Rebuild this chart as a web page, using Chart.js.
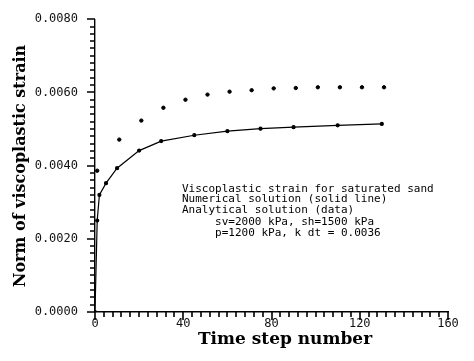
<!DOCTYPE html>
<html>
<head>
<meta charset="utf-8">
<script src="https://cdn.jsdelivr.net/npm/chart.js@4.4.1/dist/chart.umd.min.js"></script>
<style>
  html, body { margin: 0; padding: 0; background: #fff; }
  #wrap { width: 474px; height: 361px; }
</style>
</head>
<body>
<div id="wrap"><canvas id="c" width="474" height="361"></canvas></div>
<script>
// ---- data ----
const numericalSteps  = [0, 1, 2, 5, 10, 20, 30, 45, 60, 75, 90, 110, 130];
const numericalStrain = [0, 0.0025, 0.0032, 0.00352, 0.00393, 0.00441, 0.00467, 0.00483, 0.00494, 0.00501, 0.00505, 0.0051, 0.00514];

const analyticalSteps  = [1, 11, 21, 31, 41, 51, 61, 71, 81, 91, 101, 111, 121, 131];
const analyticalStrain = [0.00386, 0.00471, 0.00523, 0.00558, 0.0058, 0.00594, 0.00602, 0.00606, 0.00611, 0.00612, 0.00614, 0.00614, 0.00614, 0.00614];

const xTickLabels = ['0', '40', '80', '120', '160'];
const yTickLabels = ['0.0000', '0.0020', '0.0040', '0.0060', '0.0080'];

const xTitle = 'Time step number';
const yTitle = 'Norm of viscoplastic strain';
const noteLines = [
  'Viscoplastic strain for saturated sand',
  'Numerical solution (solid line)',
  'Analytical solution (data)',
  '     sv=2000 kPa, sh=1500 kPa',
  '     p=1200 kPa, k dt = 0.0036'
];

const X_MINOR = 4, X_MAJOR = 40, Y_MINOR = 0.0002, Y_MAJOR = 0.002;

const toXY = (xs, ys) => xs.map((x, i) => ({ x: x, y: ys[i] }));
const isMajor = (v, step) => Math.abs(v / step - Math.round(v / step)) < 1e-6;

const extrasPlugin = {
  id: 'extras',
  afterDraw(chart) {
    const ctx = chart.ctx;
    const xs = chart.scales.x, ys = chart.scales.y;
    const area = chart.chartArea;
    ctx.save();
    ctx.strokeStyle = '#000';
    ctx.lineWidth = 1.6;
    ctx.setLineDash([]);
    // minor + major ticks along the axes
    ctx.beginPath();
    const nx = Math.round((xs.max - xs.min) / X_MINOR);
    for (let i = 0; i <= nx; i++) {
      const v = xs.min + i * X_MINOR;
      const len = isMajor(v, X_MAJOR) ? 8 : 5;
      const px = Math.round(xs.getPixelForValue(v));
      ctx.moveTo(px, area.bottom);
      ctx.lineTo(px, area.bottom + len);
    }
    const ny = Math.round((ys.max - ys.min) / Y_MINOR);
    for (let i = 0; i <= ny; i++) {
      const v = ys.min + i * Y_MINOR;
      const len = isMajor(v, Y_MAJOR) ? 8 : 5;
      const py = Math.round(ys.getPixelForValue(v));
      ctx.moveTo(area.left, py);
      ctx.lineTo(area.left - len, py);
    }
    ctx.stroke();
    // axis titles
    ctx.fillStyle = '#000';
    ctx.font = 'bold 17px "DejaVu Serif"';
    ctx.textAlign = 'center';
    ctx.textBaseline = 'middle';
    ctx.fillText(xTitle, 285, 340);
    ctx.save();
    ctx.translate(21, 166);
    ctx.rotate(-Math.PI / 2);
    ctx.font = 'bold 16px "DejaVu Serif"';
    ctx.fillText(yTitle, 0, 0);
    ctx.restore();
    // annotation
    ctx.font = '11px "DejaVu Sans Mono"';
    ctx.textAlign = 'left';
    ctx.textBaseline = 'middle';
    const lineY = [189, 199.5, 210, 222, 233];
    noteLines.forEach((t, i) => ctx.fillText(t, 182, lineY[i]));
    ctx.restore();
  }
};

new Chart(document.getElementById('c'), {
  type: 'scatter',
  data: {
    datasets: [
      {
        label: 'Numerical',
        data: toXY(numericalSteps, numericalStrain),
        showLine: true,
        borderColor: '#000',
        backgroundColor: '#000',
        borderWidth: 1.2,
        pointRadius: 1.5,
        pointHoverRadius: 1.5,
        tension: 0
      },
      {
        label: 'Analytical',
        data: toXY(analyticalSteps, analyticalStrain),
        showLine: false,
        borderColor: '#000',
        backgroundColor: '#000',
        pointRadius: 1.7,
        pointHoverRadius: 1.7
      }
    ]
  },
  options: {
    responsive: false,
    animation: false,
    events: [],
    layout: { padding: { top: 16, right: 26, left: 0, bottom: 0 } },
    plugins: { legend: { display: false }, tooltip: { enabled: false } },
    scales: {
      x: {
        type: 'linear',
        min: 0, max: 160,
        afterFit(s) { s.height = 49; },
        border: { display: true, color: '#000', width: 1.4 },
        grid: { drawOnChartArea: false, drawTicks: true, tickLength: 5, color: 'rgba(0,0,0,0)', tickColor: 'rgba(0,0,0,0)' },
        ticks: {
          stepSize: X_MAJOR, autoSkip: false, maxRotation: 0, padding: 0,
          color: '#111',
          font: { family: '"DejaVu Sans Mono"', size: 12 },
          callback(v) { return isMajor(v, X_MAJOR) ? xTickLabels[Math.round(v / X_MAJOR)] : ''; }
        }
      },
      y: {
        type: 'linear',
        min: 0, max: 0.008,
        afterFit(s) { s.width = 95; },
        border: { display: true, color: '#000', width: 1.4 },
        grid: { drawOnChartArea: false, drawTicks: true, tickLength: 5, color: 'rgba(0,0,0,0)', tickColor: 'rgba(0,0,0,0)' },
        ticks: {
          stepSize: Y_MAJOR, autoSkip: false, padding: 12,
          color: '#111',
          font: { family: '"DejaVu Sans Mono"', size: 12 },
          callback(v) { return isMajor(v, Y_MAJOR) ? yTickLabels[Math.round(v / Y_MAJOR)] : ''; }
        }
      }
    }
  },
  plugins: [extrasPlugin]
});
</script>
</body>
</html>
